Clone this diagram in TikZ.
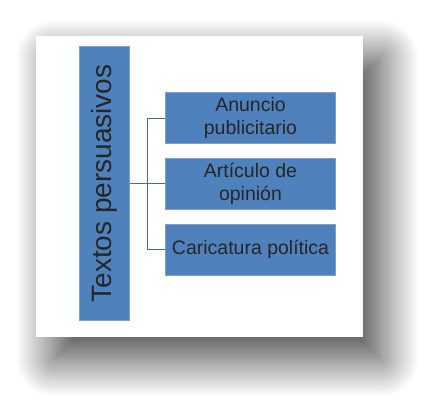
\documentclass[tikz,border=0pt]{standalone}
\usepackage{fontspec}
\setmainfont{Liberation Sans}
\usetikzlibrary{shadows.blur}
\definecolor{boxblue}{HTML}{4F81BD}
\definecolor{boxedge}{HTML}{7D9FCF}
\definecolor{inkgray}{HTML}{262626}
\definecolor{forkline}{HTML}{53698A}

\tikzset{
  topicbox/.style={draw=boxedge,line width=0.8pt,fill=boxblue,text=inkgray,
    minimum width=170.4pt,minimum height=51pt,inner sep=0pt,
    align=center,font=\fontsize{19.5}{23}\selectfont},
  rootbox/.style={draw=boxedge,line width=0.8pt,fill=boxblue,text=inkgray,
    rotate=90,minimum width=274.3pt,minimum height=50.7pt,inner sep=0pt,
    font=\fontsize{28}{30}\selectfont},
  forkedge/.style={draw=forkline,line width=0.9pt}
}

\begin{document}
\begin{tikzpicture}[x=1pt,y=1pt]
                \useasboundingbox (0,0) rectangle (436,410);
                % card with its shadow
                \fill[white,blur shadow={shadow xshift=18pt,shadow yshift=-22pt,
                  shadow blur radius=38pt,shadow blur steps=30,shadow opacity=75}]
                  (36,73.3) rectangle (362.7,374);

                \node[rootbox] (root) at (104.3,226.5) {Textos persuasivos};

                \node[topicbox] (anuncio) at (250.5,292) {Anuncio\\publicitario};
                \node[topicbox] (articulo) at (250.5,226.5) {Artículo de\\opinión};
                \node[topicbox] (caricatura) at (250.5,160.2) {Caricatura política};

                \coordinate (fork) at (147.7,226.5);
                \draw[forkedge] (root.south) -- (articulo.west);
                \draw[forkedge] (anuncio.west) -| (fork) |- (caricatura.west);
            \end{tikzpicture}
\end{document}
